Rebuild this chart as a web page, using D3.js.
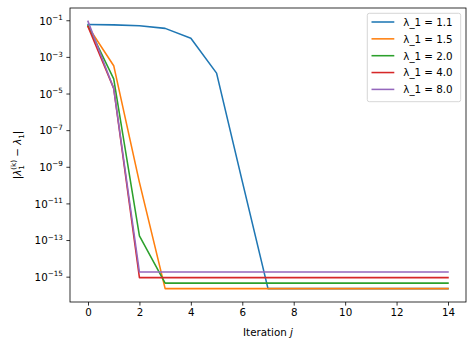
<!DOCTYPE html>
<html>
<head>
<meta charset="utf-8">
<script src="https://cdn.jsdelivr.net/npm/d3@7"></script>
<style>
  html, body { margin: 0; padding: 0; background: #fff; }
  svg text { font-family: "DejaVu Sans", sans-serif; fill: #000; }
</style>
</head>
<body>
<svg id="chart" width="474" height="348"></svg>
<script>
// Iteration index
const iterations = [0, 1, 2, 3, 4, 5, 6, 7, 8, 9, 10, 11, 12, 13, 14];

// Legend labels for each run
const seriesLabels = ["λ_1 = 1.1", "λ_1 = 1.5", "λ_1 = 2.0", "λ_1 = 4.0", "λ_1 = 8.0"];
const seriesColors = ["#1f77b4", "#ff7f0e", "#2ca02c", "#d62728", "#9467bd"];

// |λ1^(k) − λ1| per iteration for each run
const err_1_1 = [5.8e-2, 5.6e-2, 5.0e-2, 3.6e-2, 1.05e-2, 1.3e-4, 1.6e-10, 2.22e-16,
                 2.22e-16, 2.22e-16, 2.22e-16, 2.22e-16, 2.22e-16, 2.22e-16, 2.22e-16];
const err_1_5 = [4.6e-2, 3.3e-4, 1.4e-10, 2.22e-16, 2.22e-16, 2.22e-16, 2.22e-16, 2.22e-16,
                 2.22e-16, 2.22e-16, 2.22e-16, 2.22e-16, 2.22e-16, 2.22e-16, 2.22e-16];
const err_2_0 = [5.0e-2, 6.3e-5, 1.7e-13, 4.44e-16, 4.44e-16, 4.44e-16, 4.44e-16, 4.44e-16,
                 4.44e-16, 4.44e-16, 4.44e-16, 4.44e-16, 4.44e-16, 4.44e-16, 4.44e-16];
const err_4_0 = [4.4e-2, 1.9e-5, 8.88e-16, 8.88e-16, 8.88e-16, 8.88e-16, 8.88e-16, 8.88e-16,
                 8.88e-16, 8.88e-16, 8.88e-16, 8.88e-16, 8.88e-16, 8.88e-16, 8.88e-16];
const err_8_0 = [8.7e-2, 1.9e-5, 1.776e-15, 1.776e-15, 1.776e-15, 1.776e-15, 1.776e-15, 1.776e-15,
                 1.776e-15, 1.776e-15, 1.776e-15, 1.776e-15, 1.776e-15, 1.776e-15, 1.776e-15];

const seriesValues = [err_1_1, err_1_5, err_2_0, err_4_0, err_8_0];

const xTicks = [0, 2, 4, 6, 8, 10, 12, 14];
const yTickExponents = [-1, -3, -5, -7, -9, -11, -13, -15];

// Layout
const W = 474, H = 348;
const plot = { left: 70, right: 466, top: 8, bottom: 302 };
const fontSize = 10.3;

const svg = d3.select("#chart");

// Scales with 5% padding (log space on y)
const xMin = d3.min(iterations), xMax = d3.max(iterations);
const xPad = (xMax - xMin) * 0.05;
const x = d3.scaleLinear().domain([xMin - xPad, xMax + xPad]).range([plot.left, plot.right]);

const allVals = seriesValues.flat();
const lMin = Math.log10(d3.min(allVals)), lMax = Math.log10(d3.max(allVals));
const lPad = (lMax - lMin) * 0.05;
const y = d3.scaleLog().domain([Math.pow(10, lMin - lPad), Math.pow(10, lMax + lPad)])
  .range([plot.bottom, plot.top]);

// Clip lines to plot area
svg.append("defs").append("clipPath").attr("id", "clip")
  .append("rect").attr("x", plot.left).attr("y", plot.top)
  .attr("width", plot.right - plot.left).attr("height", plot.bottom - plot.top);

// Lines
const line = d3.line().x(d => x(d[0])).y(d => y(d[1]));
const gLines = svg.append("g").attr("clip-path", "url(#clip)");
seriesValues.forEach((vals, i) => {
  gLines.append("path")
    .attr("d", line(iterations.map((t, k) => [t, vals[k]])))
    .attr("fill", "none")
    .attr("stroke", seriesColors[i])
    .attr("stroke-width", 1.55)
    .attr("stroke-linejoin", "round")
    .attr("stroke-linecap", "square");
});

// X axis
const xAxis = d3.axisBottom(x).tickValues(xTicks).tickSize(3.6).tickPadding(3.2)
  .tickFormat(d3.format("d"));
const gx = svg.append("g").attr("transform", `translate(0,${plot.bottom})`).call(xAxis);
gx.select(".domain").remove();
gx.selectAll(".tick line").attr("stroke", "#000").attr("stroke-width", 0.8);
gx.selectAll(".tick text").attr("font-size", fontSize).attr("font-family", "DejaVu Sans")
  .attr("fill", "#000");

// Y axis with 10^n labels
const yAxis = d3.axisLeft(y).tickValues(yTickExponents.map(e => Math.pow(10, e)))
  .tickSize(3.6).tickPadding(3.5).tickFormat("");
const gy = svg.append("g").attr("transform", `translate(${plot.left},0)`).call(yAxis);
gy.select(".domain").remove();
gy.selectAll(".tick line").attr("stroke", "#000").attr("stroke-width", 0.8);
gy.selectAll(".tick").each(function(d) {
  const e = Math.round(Math.log10(d));
  const t = d3.select(this).select("text")
    .attr("x", -7.1).attr("dy", null).attr("y", 3.8)
    .attr("text-anchor", "end").attr("font-size", fontSize)
    .attr("font-family", "DejaVu Sans").attr("fill", "#000");
  t.text(null);
  t.append("tspan").text("10");
  t.append("tspan").attr("font-size", fontSize * 0.7).attr("dy", -4.6)
    .text("\u2212" + Math.abs(e));
});

// Frame
svg.append("rect")
  .attr("x", plot.left).attr("y", plot.top)
  .attr("width", plot.right - plot.left).attr("height", plot.bottom - plot.top)
  .attr("fill", "none").attr("stroke", "#000").attr("stroke-width", 0.8);

// Axis labels
const xl = svg.append("text")
  .attr("x", (plot.left + plot.right) / 2).attr("y", 336)
  .attr("text-anchor", "middle").attr("font-size", fontSize);
xl.append("tspan").text("Iteration ");
xl.append("tspan").attr("font-style", "italic").text("j");

const yl = svg.append("text")
  .attr("transform", "translate(21,155) rotate(-90)")
  .attr("text-anchor", "middle").attr("font-size", fontSize);
const small = fontSize * 0.7;
yl.append("tspan").text("|");
yl.append("tspan").attr("font-style", "italic").text("λ");
yl.append("tspan").attr("font-size", small).attr("dy", 2.6).text("1");
yl.append("tspan").attr("font-size", small).attr("dx", -small * 0.64).attr("dy", -7.2).text("(k)");
yl.append("tspan").attr("dy", 4.6).text(" \u2212 ");
yl.append("tspan").attr("font-style", "italic").text("λ");
yl.append("tspan").attr("font-size", small).attr("dy", 2.6).text("1");
yl.append("tspan").attr("dy", -2.6).text("|");

// Legend
const legend = { x: 367.3, y: 13.3, w: 93.4, h: 88.4, row0: 22, rowStep: 16.85 };
svg.append("rect")
  .attr("x", legend.x).attr("y", legend.y).attr("width", legend.w).attr("height", legend.h)
  .attr("rx", 2).attr("ry", 2)
  .attr("fill", "#fff").attr("fill-opacity", 0.8)
  .attr("stroke", "#cccccc").attr("stroke-width", 0.8);
seriesLabels.forEach((lab, i) => {
  const ry = legend.row0 + i * legend.rowStep;
  svg.append("line")
    .attr("x1", 371.5).attr("x2", 394.3).attr("y1", ry).attr("y2", ry)
    .attr("stroke", seriesColors[i]).attr("stroke-width", 1.55);
  svg.append("text")
    .attr("x", 403.3).attr("y", ry + 3.8)
    .attr("font-size", fontSize).text(lab);
});
</script>
</body>
</html>
